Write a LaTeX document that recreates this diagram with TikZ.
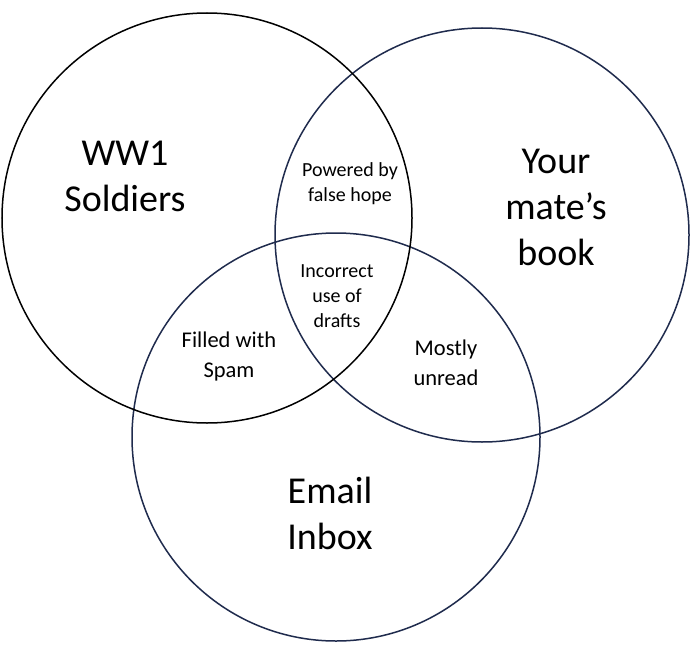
\documentclass[tikz,border=0pt]{standalone}
\usepackage{fontspec}
\setmainfont{Carlito}
\definecolor{navy}{HTML}{1F2B4D}
\begin{document}
\begin{tikzpicture}[x=1pt,y=-1pt,
  ring/.style={line width=1.5pt},
  big/.style={align=center,font=\fontsize{38}{46}\selectfont,inner sep=0pt},
  small/.style={align=center,font=\fontsize{20}{25}\selectfont,inner sep=0pt},
  mid/.style={align=center,font=\fontsize{22.5}{30}\selectfont,inner sep=0pt}]
\useasboundingbox[fill=white] (0,0) rectangle (700,655);
\draw[ring,navy] (482,235) circle[radius=207];
\draw[ring,navy] (336,437) circle[radius=204];
\draw[ring,black] (207,218) circle[radius=205];
\node[big] (ww) at (125,176) {WW1\\Soldiers};
\node[big] (mate) at (556,207) {Your\\mate’s\\book};
\node[big] (mail) at (330,513) {Email\\Inbox};
\node[small] (hope) at (350,184) {Powered by\\false hope};
\node[small] (draft) at (337,296) {Incorrect\\use of\\drafts};
\node[mid] (spam) at (229,356) {Filled with\\Spam};
\node[mid] (unread) at (446,363) {Mostly\\unread};
\end{tikzpicture}
\end{document}
